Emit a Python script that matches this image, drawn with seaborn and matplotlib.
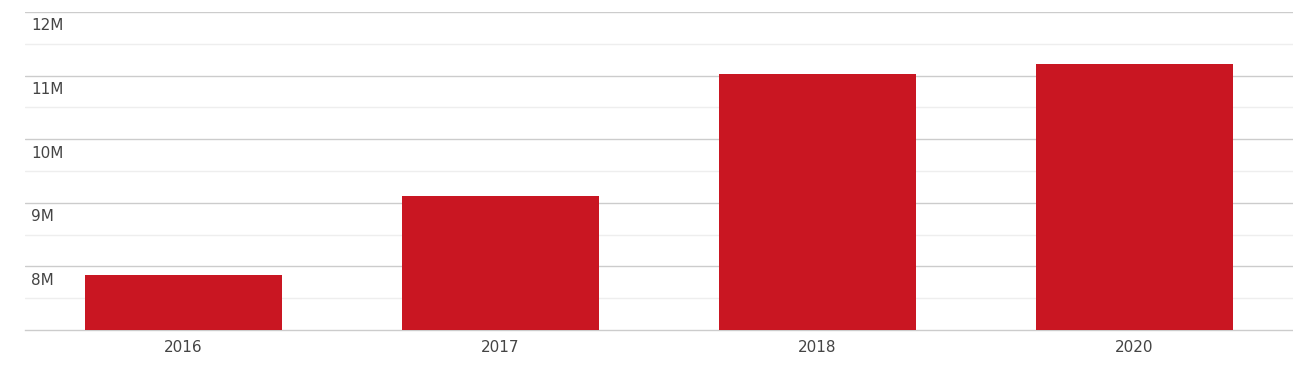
import matplotlib
matplotlib.use("Agg")
import matplotlib.pyplot as plt
import matplotlib.transforms as mtransforms
import seaborn as sns
import pandas as pd
import numpy as np

years = ["2016", "2017", "2018", "2020"]
values = [7.86e6, 9.10e6, 11.02e6, 11.19e6]
ytick_values = [8e6, 9e6, 10e6, 11e6, 12e6]
ytick_labels = ["8M", "9M", "10M", "11M", "12M"]

sns.set_style("white")
plt.rcParams["font.family"] = ["DejaVu Sans"]

fig = plt.figure(figsize=(12.93, 3.84), dpi=100)
ax = fig.add_axes([25 / 1293, 54 / 384, 1268 / 1293, 318 / 384])

df = pd.DataFrame({"year": years, "value": values})
sns.barplot(data=df, x="year", y="value", color="#C91622", saturation=1,
            width=0.62, ax=ax, zorder=3, linewidth=0)

ax.set_ylim(7e6, 12e6)
ax.set_xlim(-0.5, len(years) - 0.5)
ax.set_yticks(ytick_values)
ax.set_yticks([7.5e6, 8.5e6, 9.5e6, 10.5e6, 11.5e6], minor=True)
ax.set_yticklabels([])
ax.grid(axis="y", which="major", color="#cccccc", linewidth=1, zorder=0)
ax.grid(axis="y", which="minor", color="#eeeeee", linewidth=1, zorder=0)
ax.tick_params(axis="y", which="both", length=0)
ax.tick_params(axis="x", length=0, pad=7, labelsize=11, labelcolor="#444444")
ax.set_xlabel("")
ax.set_ylabel("")
for s in ["top", "right", "left"]:
    ax.spines[s].set_visible(False)
ax.spines["bottom"].set_color("#cccccc")
ax.spines["bottom"].set_linewidth(1)

trans = mtransforms.blended_transform_factory(ax.transAxes, ax.transData)
offset = mtransforms.ScaledTranslation(6 / 100, -18.4 / 100, fig.dpi_scale_trans)
for v, lab in zip(ytick_values, ytick_labels):
    ax.text(0, v, lab, transform=trans + offset, ha="left", va="baseline",
            fontsize=11, color="#444444", zorder=5)

fig.savefig("out.png", dpi=100)
